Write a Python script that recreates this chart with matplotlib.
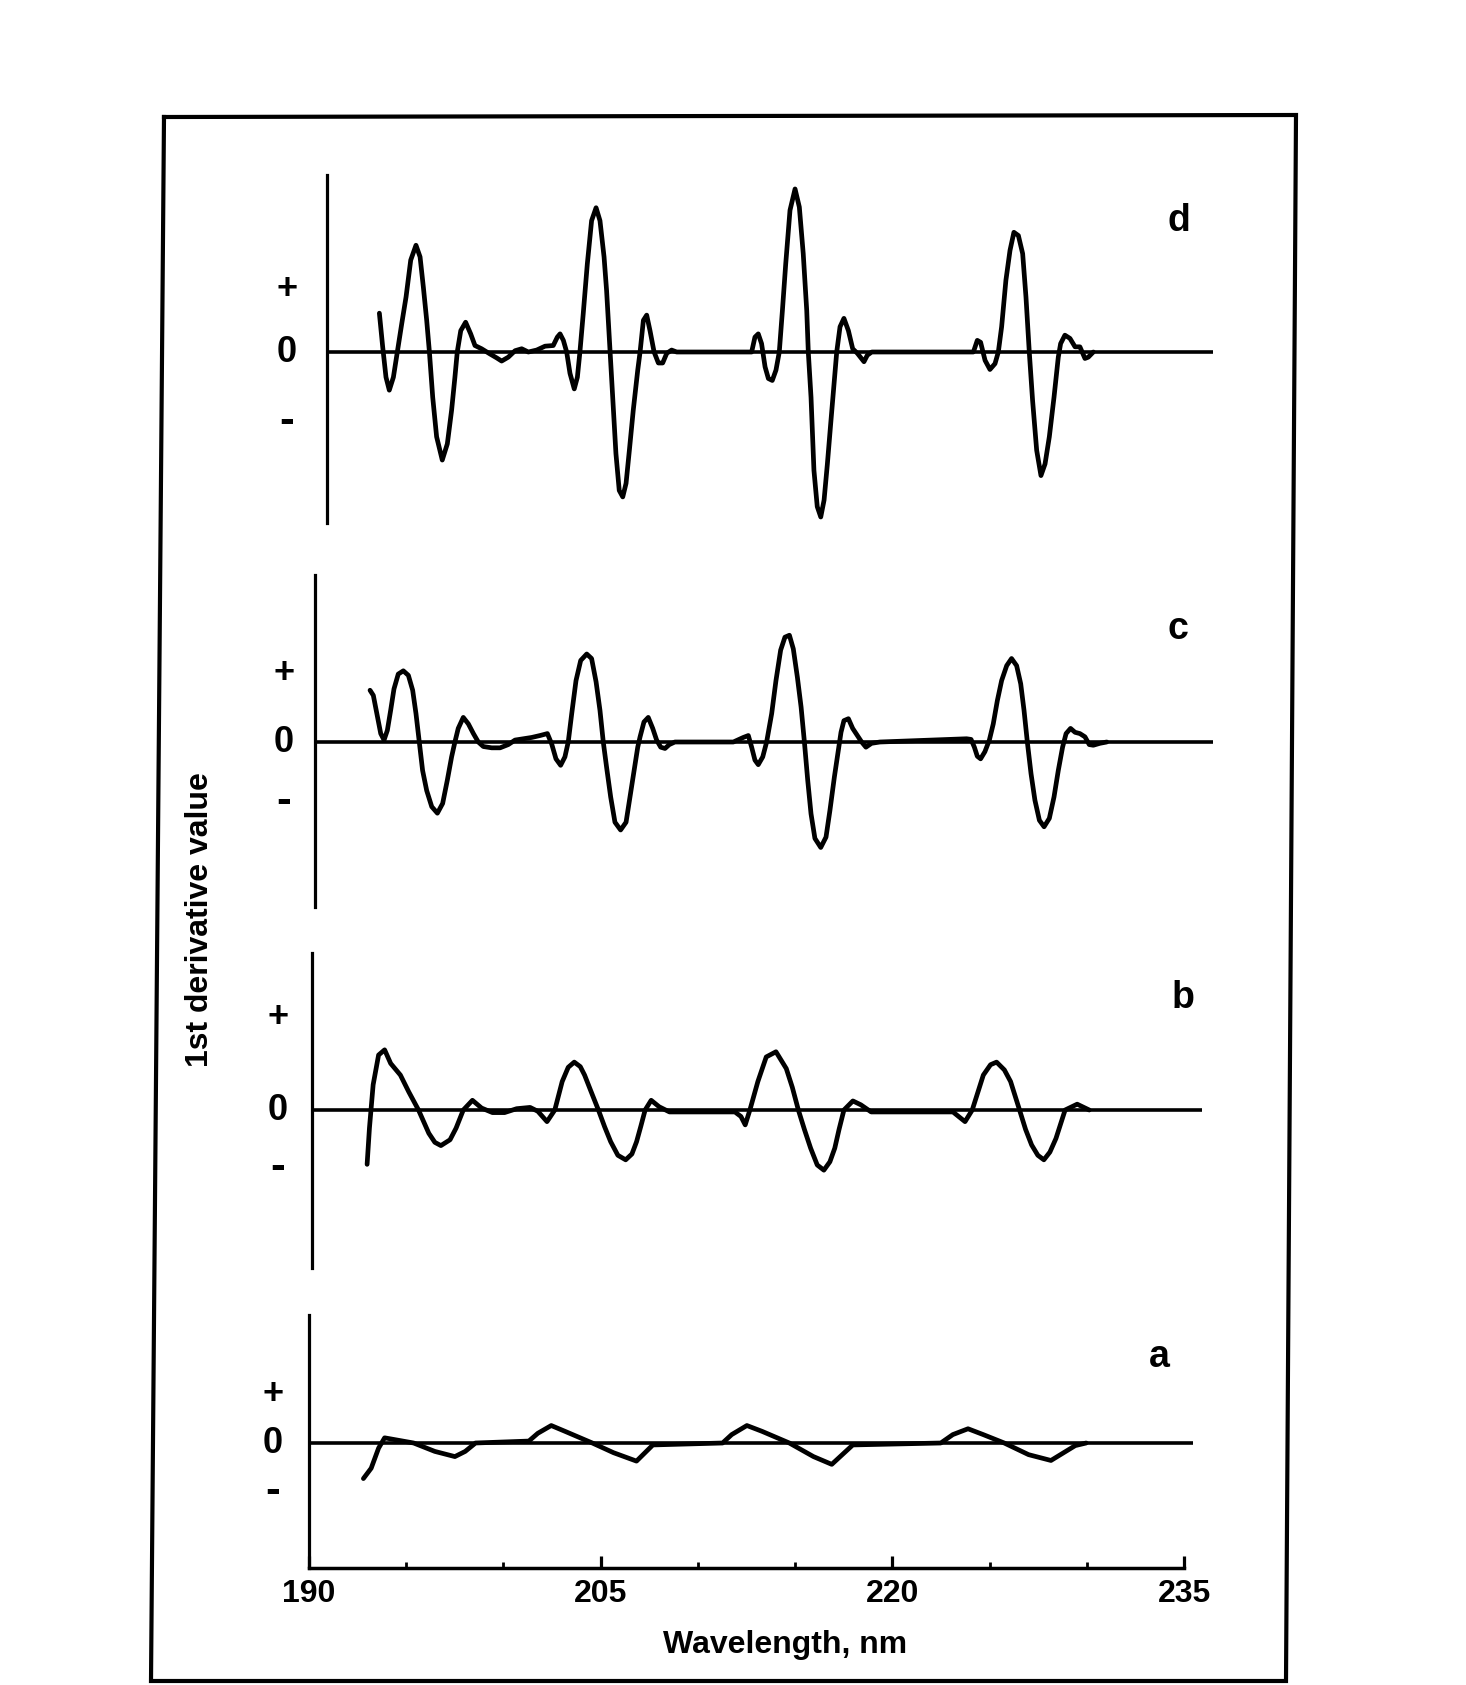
import matplotlib
matplotlib.use("Agg")
import matplotlib.pyplot as plt
from matplotlib.lines import Line2D
from matplotlib.transforms import blended_transform_factory

plt.rcParams['font.family'] = ['Liberation Sans', 'DejaVu Sans']

# ---------------- data (wavelength in nm, 1st derivative in arbitrary units) ----------------
d_nm = [193.64, 193.81, 193.98, 194.15, 194.36, 194.56, 194.79, 195.01, 195.25, 195.52,
        195.73, 195.90, 196.07, 196.21, 196.38, 196.58, 196.87, 197.13, 197.35, 197.52,
        197.64, 197.82, 198.07, 198.33, 198.55, 198.89, 199.32, 199.66, 199.92, 200.26,
        200.61, 200.95, 201.29, 201.72, 202.15, 202.57, 202.78, 202.92, 203.09, 203.26,
        203.43, 203.65, 203.81, 203.94, 204.11, 204.32, 204.54, 204.77, 204.97, 205.18,
        205.31, 205.49, 205.62, 205.79, 205.96, 206.14, 206.31, 206.48, 206.68, 206.91,
        207.03, 207.20, 207.37, 207.54, 207.75, 207.97, 208.19, 208.40, 208.65, 208.91,
        212.76, 212.93, 213.10, 213.27, 213.45, 213.62, 213.82, 214.01, 214.18, 214.34,
        214.51, 214.73, 214.99, 215.21, 215.41, 215.59, 215.67, 215.81, 215.96, 216.13,
        216.31, 216.48, 216.65, 216.82, 217.01, 217.13, 217.30, 217.50, 217.73, 217.95,
        218.19, 218.53, 218.70, 218.93, 224.15, 224.35, 224.52, 224.75, 225.00, 225.26,
        225.43, 225.60, 225.82, 226.03, 226.23, 226.46, 226.68, 226.85, 227.02, 227.19,
        227.40, 227.62, 227.83, 228.05, 228.29, 228.51, 228.63, 228.85, 229.11, 229.37,
        229.62, 229.88, 230.05, 230.31]
d_val = [0.60, 0.08, -0.39, -0.59, -0.39, 0.00, 0.44, 0.85, 1.42, 1.65,
         1.47, 1.00, 0.49, 0.00, -0.70, -1.31, -1.67, -1.42, -0.90, -0.39,
         0.00, 0.33, 0.46, 0.28, 0.10, 0.05, -0.03, -0.09, -0.14, -0.08,
         0.02, 0.05, 0.00, 0.03, 0.09, 0.10, 0.23, 0.28, 0.18, 0.00,
         -0.33, -0.57, -0.39, 0.00, 0.59, 1.36, 2.03, 2.23, 2.03, 1.47,
         0.95, 0.00, -0.70, -1.57, -2.14, -2.24, -2.03, -1.52, -0.90, -0.28,
         0.00, 0.49, 0.57, 0.33, 0.00, -0.17, -0.17, -0.02, 0.03, 0.00,
         0.00, 0.23, 0.28, 0.13, -0.23, -0.41, -0.44, -0.28, 0.00, 0.64,
         1.36, 2.19, 2.52, 2.24, 1.52, 0.64, 0.00, -0.70, -1.83, -2.39,
         -2.55, -2.29, -1.73, -1.11, -0.44, 0.00, 0.39, 0.52, 0.33, 0.05,
         -0.02, -0.15, -0.05, 0.00, 0.00, 0.18, 0.15, -0.13, -0.27, -0.18,
         0.00, 0.39, 1.11, 1.57, 1.85, 1.80, 1.52, 0.85, 0.00, -0.75,
         -1.52, -1.91, -1.73, -1.31, -0.70, -0.08, 0.13, 0.26, 0.21, 0.08,
         0.08, -0.10, -0.08, 0.00]

c_nm = [193.16, 193.33, 193.54, 193.71, 193.88, 194.05, 194.22, 194.39, 194.61, 194.87,
        195.13, 195.35, 195.52, 195.69, 195.86, 196.07, 196.33, 196.62, 196.89, 197.13,
        197.35, 197.52, 197.69, 197.95, 198.21, 198.47, 198.72, 198.98, 199.41, 199.84,
        200.26, 200.61, 201.03, 201.46, 201.89, 202.27, 202.49, 202.71, 202.95, 203.17,
        203.34, 203.52, 203.74, 203.98, 204.29, 204.54, 204.77, 204.97, 205.14, 205.31,
        205.52, 205.74, 206.03, 206.31, 206.51, 206.72, 206.91, 207.03, 207.23, 207.45,
        207.68, 207.88, 208.09, 208.31, 208.53, 208.82, 211.82, 212.33, 212.59, 212.76,
        212.93, 213.10, 213.33, 213.53, 213.79, 214.01, 214.25, 214.47, 214.70, 214.90,
        215.11, 215.30, 215.47, 215.64, 215.81, 216.01, 216.31, 216.58, 216.78, 217.01,
        217.21, 217.35, 217.50, 217.73, 217.95, 218.19, 218.41, 218.63, 218.92, 219.35,
        223.80, 224.03, 224.20, 224.35, 224.52, 224.74, 224.97, 225.17, 225.38, 225.60,
        225.86, 226.11, 226.37, 226.58, 226.75, 226.92, 227.11, 227.31, 227.54, 227.78,
        228.05, 228.29, 228.51, 228.73, 228.91, 229.14, 229.37, 229.62, 229.88, 230.10,
        230.31, 230.65, 231.00]
c_val = [0.80, 0.72, 0.39, 0.13, 0.03, 0.18, 0.49, 0.82, 1.05, 1.10,
         1.03, 0.80, 0.44, 0.00, -0.44, -0.75, -1.00, -1.10, -0.95, -0.59,
         -0.23, 0.00, 0.21, 0.38, 0.28, 0.13, 0.00, -0.07, -0.09, -0.09,
         -0.04, 0.03, 0.05, 0.07, 0.10, 0.13, -0.03, -0.26, -0.36, -0.23,
         0.00, 0.44, 0.95, 1.26, 1.36, 1.29, 0.93, 0.49, 0.00, -0.39,
         -0.85, -1.24, -1.36, -1.24, -0.85, -0.44, -0.08, 0.08, 0.31, 0.38,
         0.21, 0.03, -0.08, -0.10, -0.04, 0.00, 0.00, 0.07, 0.10, -0.08,
         -0.28, -0.35, -0.23, 0.00, 0.44, 0.95, 1.42, 1.62, 1.65, 1.44,
         1.00, 0.54, 0.00, -0.59, -1.11, -1.49, -1.63, -1.47, -1.06, -0.54,
         -0.13, 0.15, 0.33, 0.36, 0.21, 0.10, 0.00, -0.08, -0.02, 0.00,
         0.05, 0.04, -0.08, -0.22, -0.26, -0.15, 0.03, 0.28, 0.64, 0.95,
         1.18, 1.29, 1.18, 0.90, 0.49, 0.00, -0.49, -0.90, -1.21, -1.31,
         -1.18, -0.85, -0.44, -0.08, 0.13, 0.21, 0.15, 0.13, 0.08, -0.04,
         -0.05, -0.02, 0.00]

b_nm = [193.01, 193.13, 193.32, 193.60, 193.91, 194.22, 194.72, 195.15, 195.65, 196.18, 196.49,
        196.80, 197.27, 197.58, 197.95, 198.42, 198.89, 199.45, 200.07, 200.69, 201.38, 201.78,
        202.25, 202.65, 203.03, 203.34, 203.65, 203.96, 204.18, 204.52, 204.89, 205.21, 205.52,
        205.89, 206.29, 206.61, 206.85, 207.07, 207.29, 207.60, 208.01, 208.54, 211.90, 212.21,
        212.43, 212.67, 213.08, 213.51, 214.01, 214.54, 214.85, 215.16, 215.47, 215.79, 216.13,
        216.47, 216.78, 217.03, 217.25, 217.50, 217.96, 218.37, 218.90, 223.10, 223.72, 224.09,
        224.66, 225.03, 225.34, 225.74, 226.06, 226.52, 226.83, 227.14, 227.46, 227.77, 228.08,
        228.39, 228.86, 229.48, 230.10]
b_val = [-0.84, -0.28, 0.39, 0.85, 0.93, 0.72, 0.54, 0.28, 0.00, -0.36, -0.50,
         -0.55, -0.46, -0.28, 0.00, 0.15, 0.03, -0.04, -0.04, 0.02, 0.04, -0.02,
         -0.18, 0.00, 0.44, 0.66, 0.74, 0.67, 0.54, 0.28, 0.00, -0.26, -0.49,
         -0.70, -0.77, -0.68, -0.49, -0.25, 0.00, 0.15, 0.05, -0.03, -0.03, -0.10,
         -0.23, 0.00, 0.44, 0.82, 0.90, 0.64, 0.35, 0.00, -0.30, -0.59, -0.85,
         -0.93, -0.80, -0.59, -0.30, 0.00, 0.14, 0.08, -0.03, -0.03, -0.18, 0.00,
         0.54, 0.70, 0.74, 0.62, 0.44, 0.00, -0.30, -0.54, -0.70, -0.77, -0.65,
         -0.44, 0.00, 0.09, 0.00]

a_nm = [192.82, 193.22, 193.60, 193.91, 194.47, 195.40, 196.49, 197.52, 198.05, 198.58, 201.32,
        201.78, 202.47, 203.18, 204.58, 205.67, 206.85, 207.69, 211.27, 211.74, 212.52, 213.30,
        214.70, 215.94, 216.88, 217.96, 222.48, 223.10, 223.88, 224.66, 225.74, 226.99, 228.14,
        229.39, 229.95]
a_val = [-0.55, -0.39, -0.08, 0.08, 0.05, 0.00, -0.13, -0.21, -0.13, 0.00, 0.03,
         0.15, 0.27, 0.18, 0.00, -0.15, -0.28, -0.03, 0.00, 0.13, 0.27, 0.18,
         0.00, -0.21, -0.33, -0.03, 0.00, 0.13, 0.22, 0.13, 0.00, -0.18, -0.27,
         -0.04, 0.00]

panel_names = ['d', 'c', 'b', 'a']
x_major = [190, 205, 220, 235]
x_minor = [195, 200, 210, 215, 225, 230]
x_label = 'Wavelength, nm'
y_label = '1st derivative value'
sign_labels = ['+', '0', '-']

# ---------------- layout (pixels) ----------------
W, H = 1466, 1685
PX0, PX_PER_NM = 308.5, 19.47       # x = 190 nm at pixel 308.5
PX_PER_UNIT = 64.7

# left, right, top, bottom, zero, line_end, plus_y, minus_y, sign_x, letter_x, letter_y
layout = {
    'd': (327, 1213, 175, 523, 352, 1213, 289, 421, 287, 1179, 221),
    'c': (315, 1213, 575, 907, 742, 1213, 674, 801, 284, 1178, 629),
    'b': (312, 1202, 953, 1268, 1110, 1202, 1017, 1168, 278, 1183, 998),
    'a': (308.5, 1184.5, 1315, 1568, 1443, 1193, 1394, 1491, 273, 1159, 1357),
}
series = {'d': (d_nm, d_val), 'c': (c_nm, c_val), 'b': (b_nm, b_val), 'a': (a_nm, a_val)}


def px2nm(px):
    return 190 + (px - PX0) / PX_PER_NM


fig = plt.figure(figsize=(W / 100, H / 100), dpi=100)
fig.patch.set_facecolor('white')

FS_TICK = 23
FS_SIGN = 26
for name in panel_names:
    l, r, t, b, z, lend, py, my, sx, lx, ly = layout[name]
    ax = fig.add_axes([l / W, 1 - b / H, (r - l) / W, (b - t) / H])
    ax.set_xlim(px2nm(l), px2nm(r))
    ax.set_ylim(-(b - z) / PX_PER_UNIT, (z - t) / PX_PER_UNIT)
    ax.patch.set_alpha(0)
    for s in ['top', 'right']:
        ax.spines[s].set_visible(False)
    ax.spines['left'].set_linewidth(2.3)
    ax.set_yticks([])
    xs, ys = series[name]
    ax.plot([px2nm(l), px2nm(lend)], [0, 0], color='black', lw=2.6, clip_on=False,
            solid_capstyle='butt')
    ax.plot(xs, ys, color='black', lw=3.4, solid_joinstyle='round', solid_capstyle='round',
            clip_on=False)
    if name == 'a':
        ax.spines['bottom'].set_linewidth(2.5)
        ax.set_xticks(x_major)
        ax.set_xticks(x_minor, minor=True)
        ax.tick_params(axis='x', which='major', direction='in', length=9, width=2.3,
                       labelsize=FS_TICK, pad=8)
        ax.tick_params(axis='x', which='minor', direction='in', length=4.5, width=2.0)
        for lab in ax.get_xticklabels():
            lab.set_fontweight('bold')
    else:
        ax.spines['bottom'].set_visible(False)
        ax.set_xticks([])
    tr = blended_transform_factory(fig.transFigure, ax.transData)
    yvals = [(z - py) / PX_PER_UNIT, 0.0, (z - my) / PX_PER_UNIT]
    for lab, yv in zip(sign_labels, yvals):
        ax.text(sx / W, yv, lab, transform=tr, ha='center', va='center',
                fontsize=FS_SIGN + (6 if lab == '-' else 0), fontweight='bold')
    fig.text(lx / W, 1 - ly / H, name, ha='center', va='center', fontsize=27,
             fontweight='bold')

fig.text(785 / W, 1 - 1645 / H, x_label, ha='center', va='center',
         fontsize=23, fontweight='bold')
fig.text(200 / W, 1 - 920 / H, y_label, rotation=90, ha='center', va='center',
         fontsize=23, fontweight='bold')

# outer frame
frame_x = [164, 1296, 1286, 151, 164]
frame_y = [117, 115, 1681, 1681, 117]
fig.add_artist(Line2D([x / W for x in frame_x], [1 - y / H for y in frame_y],
                      transform=fig.transFigure, color='black', lw=3.0,
                      solid_joinstyle='miter'))

fig.savefig('out.png', dpi=100, facecolor='white')
